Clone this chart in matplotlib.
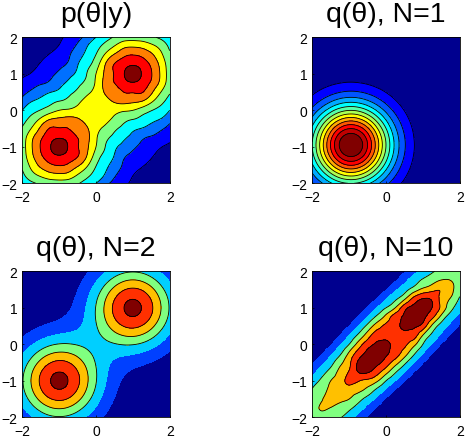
import matplotlib
matplotlib.use('Agg')
import matplotlib.pyplot as plt
import matplotlib.tri as mtri
import numpy as np

plt.rcParams['font.family'] = ['Liberation Sans', 'DejaVu Sans']

# grid of the contour plots
theta1 = [-2, -1.75, -1.5, -1.25, -1, -0.75, -0.5, -0.25, 0, 0.25, 0.5, 0.75, 1, 1.25, 1.5, 1.75, 2]
theta2 = [2, 1.75, 1.5, 1.25, 1, 0.75, 0.5, 0.25, 0, -0.25, -0.5, -0.75, -1, -1.25, -1.5, -1.75, -2]

titles = ['p(θ|y)', 'q(θ), N=1', 'q(θ), N=2', 'q(θ), N=10']
ticks_x = [-2, 0, 2]
ticks_y = [-2, -1, 0, 1, 2]
tick_labels_x = ['−2', '0', '2']
tick_labels_y = ['−2', '−1', '0', '1', '2']

# values, one row per theta2 value, top row first
posterior = [
    [.3, .4, .55, .72, .82, 1.25, 1.7, 2.3, 3.0, 3.55, 4.1, 4.4, 4.5, 4.4, 4.2, 3.8, 3.4],
    [.4, .52, .7, .88, 1.05, 1.65, 2.15, 2.95, 3.65, 4.35, 5.05, 5.75, 5.9, 5.75, 5.3, 4.7, 3.8],
    [.55, .7, .9, 1.05, 1.4, 1.9, 2.55, 3.3, 4.05, 5.2, 6.2, 6.85, 7.05, 6.85, 6.25, 5.3, 4.2],
    [.72, .88, 1.05, 1.4, 1.75, 2.15, 2.95, 3.7, 4.55, 6.0, 7.05, 7.6, 7.9, 7.6, 6.85, 5.75, 4.4],
    [.82, 1.05, 1.4, 1.75, 2.2, 2.7, 3.2, 4.0, 5.0, 6.2, 7.05, 7.9, 8.8, 7.9, 7.05, 5.9, 4.5],
    [1.25, 1.65, 1.9, 2.15, 2.7, 3.15, 3.7, 4.25, 5.15, 6.3, 7.0, 7.6, 7.9, 7.6, 6.85, 5.75, 4.4],
    [1.7, 2.15, 2.55, 2.95, 3.2, 3.7, 4.2, 4.8, 5.3, 6.1, 6.55, 7.0, 7.05, 7.05, 6.2, 5.05, 4.1],
    [2.3, 2.95, 3.3, 3.7, 4.0, 4.25, 4.8, 5.2, 5.45, 5.75, 6.1, 6.3, 6.2, 6.0, 5.2, 4.35, 3.55],
    [3.0, 3.65, 4.05, 4.55, 5.0, 5.15, 5.3, 5.45, 5.55, 5.45, 5.3, 5.15, 5.0, 4.55, 4.05, 3.65, 3.0],
    [3.55, 4.35, 5.2, 6.0, 6.2, 6.3, 6.1, 5.75, 5.45, 5.2, 4.8, 4.25, 4.0, 3.7, 3.3, 2.95, 2.3],
    [4.1, 5.05, 6.2, 7.05, 7.05, 7.0, 6.55, 6.1, 5.3, 4.8, 4.2, 3.7, 3.2, 2.95, 2.55, 2.15, 1.7],
    [4.4, 5.75, 6.85, 7.6, 7.9, 7.6, 7.0, 6.3, 5.15, 4.25, 3.7, 3.15, 2.7, 2.15, 1.9, 1.65, 1.25],
    [4.5, 5.9, 7.05, 7.9, 8.8, 7.9, 7.05, 6.2, 5.0, 4.0, 3.2, 2.7, 2.2, 1.75, 1.4, 1.05, .82],
    [4.4, 5.75, 6.85, 7.6, 7.9, 7.6, 7.05, 6.0, 4.55, 3.7, 2.95, 2.15, 1.75, 1.4, 1.05, .88, .72],
    [4.2, 5.3, 6.25, 6.85, 7.05, 6.85, 6.2, 5.2, 4.05, 3.3, 2.55, 1.9, 1.4, 1.05, .9, .7, .55],
    [3.8, 4.7, 5.3, 5.75, 5.9, 5.75, 5.05, 4.35, 3.65, 2.95, 2.15, 1.65, 1.05, .88, .7, .52, .4],
    [3.4, 3.8, 4.2, 4.4, 4.5, 4.4, 4.1, 3.55, 3.0, 2.3, 1.7, 1.25, .82, .72, .55, .4, .3],
]

q_n1 = [
    [0, 0, 0, 0, 0, 0, 0, 0, 0, 0, 0, 0, 0, 0, 0, 0, 0],
    [.01, .01, .02, .02, .02, .02, .02, .02, .01, .01, 0, 0, 0, 0, 0, 0, 0],
    [.03, .04, .06, .07, .07, .07, .06, .05, .03, .02, .01, 0, 0, 0, 0, 0, 0],
    [.08, .11, .15, .18, .2, .19, .16, .13, .09, .06, .03, .02, .01, 0, 0, 0, 0],
    [.19, .28, .37, .45, .48, .47, .41, .32, .22, .14, .08, .04, .02, .01, 0, 0, 0],
    [.41, .61, .82, .98, 1.06, 1.02, .89, .69, .49, .30, .17, .09, .04, .02, .01, 0, 0],
    [.81, 1.22, 1.63, 1.96, 2.12, 2.05, 1.78, 1.39, .97, .61, .34, .17, .08, .03, .01, 0, 0],
    [1.44, 2.16, 2.89, 3.48, 3.75, 3.63, 3.15, 2.46, 1.72, 1.08, .61, .30, .14, .06, .02, .01, 0],
    [2.30, 3.44, 4.60, 5.54, 5.97, 5.78, 5.02, 3.92, 2.74, 1.72, .97, .48, .22, .09, .03, .01, 0],
    [3.29, 4.92, 6.59, 7.93, 8.55, 8.27, 7.19, 5.60, 3.92, 2.46, 1.39, .69, .31, .13, .05, .01, .01],
    [4.22, 6.31, 8.45, 10.17, 10.97, 10.61, 9.22, 7.19, 5.03, 3.15, 1.78, .89, .40, .17, .06, .02, .01],
    [4.86, 7.26, 9.73, 11.71, 12.63, 12.22, 10.62, 8.28, 5.79, 3.63, 2.05, 1.02, .46, .19, .07, .02, .01],
    [5.02, 7.50, 10.05, 12.10, 13.04, 12.62, 10.97, 8.55, 5.98, 3.75, 2.12, 1.06, .48, .2, .07, .02, .01],
    [4.65, 6.96, 9.31, 11.21, 12.09, 11.70, 10.17, 7.93, 5.54, 3.48, 1.96, .98, .44, .19, .06, .02, .01],
    [3.87, 5.78, 7.74, 9.32, 10.05, 9.73, 8.45, 6.59, 4.61, 2.89, 1.63, .82, .37, .15, .05, .02, .01],
    [2.89, 4.32, 5.78, 6.96, 7.50, 7.26, 6.31, 4.92, 3.44, 2.16, 1.22, .61, .28, .11, .04, .01, .01],
    [1.93, 2.89, 3.87, 4.65, 5.02, 4.86, 4.22, 3.29, 2.30, 1.44, .81, .41, .18, .08, .03, .01, 0],
]

q_n2 = [
    [.01, .01, .03, .07, .14, .29, .53, .89, 1.36, 1.90, 2.41, 2.78, 2.91, 2.78, 2.41, 1.90, 1.36],
    [.01, .03, .05, .10, .21, .41, .74, 1.25, 1.91, 2.65, 3.36, 3.88, 4.07, 3.88, 3.36, 2.65, 1.90],
    [.03, .05, .09, .16, .30, .55, .97, 1.60, 2.43, 3.38, 4.27, 4.92, 5.16, 4.92, 4.27, 3.36, 2.41],
    [.07, .10, .16, .25, .41, .70, 1.17, 1.89, 2.84, 3.92, 4.94, 5.69, 5.96, 5.68, 4.92, 3.88, 2.78],
    [.14, .21, .30, .41, .59, .88, 1.36, 2.09, 3.05, 4.16, 5.22, 5.98, 6.26, 5.96, 5.17, 4.07, 2.91],
    [.29, .41, .55, .70, .88, 1.15, 1.57, 2.20, 3.06, 4.06, 5.03, 5.73, 5.98, 5.69, 4.93, 3.88, 2.78],
    [.53, .74, .97, 1.17, 1.36, 1.57, 1.85, 2.29, 2.93, 3.70, 4.46, 5.03, 5.22, 4.94, 4.27, 3.36, 2.41],
    [.89, 1.25, 1.60, 1.89, 2.09, 2.20, 2.29, 2.47, 2.78, 3.22, 3.70, 4.06, 4.16, 3.92, 3.38, 2.65, 1.90],
    [1.36, 1.91, 2.43, 2.84, 3.05, 3.06, 2.93, 2.78, 2.71, 2.78, 2.93, 3.06, 3.05, 2.84, 2.43, 1.91, 1.36],
    [1.90, 2.65, 3.38, 3.92, 4.16, 4.06, 3.70, 3.22, 2.78, 2.47, 2.29, 2.20, 2.09, 1.89, 1.60, 1.25, .89],
    [2.41, 3.36, 4.27, 4.94, 5.22, 5.03, 4.46, 3.70, 2.93, 2.29, 1.85, 1.57, 1.36, 1.17, .97, .74, .53],
    [2.78, 3.88, 4.93, 5.69, 5.98, 5.73, 5.03, 4.06, 3.06, 2.20, 1.57, 1.15, .88, .70, .55, .41, .29],
    [2.91, 4.07, 5.17, 5.96, 6.26, 5.98, 5.22, 4.16, 3.05, 2.09, 1.36, .88, .59, .41, .30, .21, .14],
    [2.78, 3.88, 4.92, 5.68, 5.96, 5.69, 4.94, 3.92, 2.84, 1.89, 1.17, .70, .41, .25, .16, .10, .07],
    [2.41, 3.36, 4.27, 4.92, 5.16, 4.92, 4.27, 3.38, 2.43, 1.60, .97, .55, .30, .16, .09, .05, .03],
    [1.90, 2.65, 3.36, 3.88, 4.07, 3.88, 3.36, 2.65, 1.91, 1.25, .74, .41, .21, .10, .05, .03, .01],
    [1.36, 1.90, 2.41, 2.78, 2.91, 2.78, 2.41, 1.90, 1.36, .89, .53, .29, .14, .07, .03, .01, .01],
]

q_n10 = [
    [0, 0, 0, 0, 0, .05, .1, .2, .3, .5, .85, 1.6, 2.4, 2.88, 3.23, 3.38, 3.3],
    [0, 0, 0, 0, .05, .1, .2, .33, .55, .9, 1.7, 2.5, 3.14, 3.6, 4.05, 4.0, 3.5],
    [0, 0, 0, .05, .1, .2, .36, .58, .95, 1.8, 2.6, 3.44, 4.25, 4.7, 4.95, 4.35, 3.4],
    [0, 0, .05, .1, .2, .38, .6, 1.0, 1.9, 2.8, 3.8, 5.3, 6.0, 5.85, 4.7, 3.95, 2.88],
    [0, .05, .1, .2, .4, .62, 1.05, 2.0, 3.0, 4.0, 5.6, 6.3, 6.4, 6.0, 4.75, 3.4, 2.4],
    [.05, .1, .2, .4, .62, 1.05, 2.05, 3.2, 4.33, 5.5, 6.2, 6.8, 6.3, 5.3, 3.7, 2.5, 1.6],
    [.1, .2, .38, .62, 1.0, 2.05, 3.28, 4.5, 5.18, 5.6, 6.3, 6.2, 5.6, 3.8, 2.6, 1.7, .85],
    [.2, .37, .6, .95, 2.0, 3.18, 4.48, 5.5, 5.6, 5.8, 5.6, 5.5, 4.0, 2.8, 1.8, .9, .5],
    [.35, .58, .9, 1.85, 3.0, 4.4, 5.55, 6.2, 6.3, 5.6, 5.18, 4.33, 3.0, 1.9, .95, .55, .3],
    [.55, .88, 1.75, 2.8, 4.17, 5.45, 6.3, 6.7, 6.2, 5.5, 4.5, 3.2, 2.0, 1.0, .58, .33, .2],
    [.85, 1.65, 2.6, 3.7, 4.76, 6.15, 6.6, 6.3, 5.55, 4.48, 3.28, 2.05, 1.05, .6, .36, .2, .1],
    [1.63, 2.5, 3.39, 4.24, 5.08, 6.05, 6.15, 5.45, 4.4, 3.18, 2.05, 1.05, .62, .38, .2, .1, .05],
    [2.43, 3.24, 4.0, 4.55, 5.3, 5.08, 4.76, 4.17, 3.0, 2.0, 1.0, .62, .4, .2, .1, .05, 0],
    [3.08, 3.7, 4.25, 4.8, 4.55, 4.24, 3.7, 2.8, 1.85, .95, .62, .4, .2, .1, .05, 0, 0],
    [3.33, 3.9, 4.4, 4.25, 4.0, 3.39, 2.6, 1.75, .9, .6, .38, .2, .1, .05, 0, 0, 0],
    [3.4, 4.1, 3.95, 3.7, 3.24, 2.5, 1.65, .88, .58, .37, .2, .1, .05, 0, 0, 0, 0],
    [3.4, 3.4, 3.33, 3.08, 2.43, 1.63, .85, .55, .35, .2, .1, .05, 0, 0, 0, 0, 0],
]

surfaces = [posterior, q_n1, q_n2, q_n10]

colors_9 = ['#00008f', '#0000ff', '#0070ff', '#00ffff', '#80ff80', '#ffff00', '#ff8000', '#ff0000', '#800000']
colors_13 = ['#00008f', '#0000ff', '#0055ff', '#00aaff', '#00ffff', '#55ffaa', '#aaff55', '#ffff00',
             '#ffaa00', '#ff5500', '#ff0000', '#c00000', '#800000']
colors_7 = ['#00008f', '#0040ff', '#00cfff', '#80ff80', '#ffc000', '#ff3000', '#800000']
band_colors = [colors_9, colors_13, colors_7, colors_7]
line_from = [1, 1, 3, 3]  # lowest level that has a black line in each panel

W, H = 465, 439
boxes = [(22.3, 38.3), (312.3, 38.3), (22.3, 272.3), (312.3, 272.3)]
box_w, box_h = 147.4, 146.0

# triangulation of the grid, refined so that the contours come out round
gx, gy = np.meshgrid(theta1, theta2)
grid_tri = mtri.Triangulation(gx.ravel(), gy.ravel())
refiner = mtri.UniformTriRefiner(grid_tri)

fig = plt.figure(figsize=(W / 100, H / 100), dpi=100)
for i in range(4):
    left, top = boxes[i]
    ax = fig.add_axes([left / W, 1 - (top + box_h) / H, box_w / W, box_h / H])
    cols = band_colors[i]
    inner = list(range(1, len(cols)))
    fine_tri, fine_z = refiner.refine_field(np.array(surfaces[i], dtype=float).ravel(), subdiv=3)
    ax.tricontourf(fine_tri, fine_z, levels=[-99] + inner + [99], colors=cols)
    ax.tricontour(fine_tri, fine_z, levels=[k for k in inner if k >= line_from[i]],
                  colors='black', linewidths=0.6)
    ax.set_xlim(-2, 2)
    ax.set_ylim(-2, 2)
    ax.set_xticks(ticks_x)
    ax.set_xticklabels(tick_labels_x)
    ax.set_yticks(ticks_y)
    ax.set_yticklabels(tick_labels_y)
    ax.tick_params(direction='in', length=1.5, width=0.5, labelsize=10)
    ax.tick_params(axis='x', pad=5)
    ax.tick_params(axis='y', pad=3.5)
    for s in ax.spines.values():
        s.set_linewidth(0.6)
    ax.set_title(titles[i], fontsize=20.5, pad=11.5)

fig.savefig('out.png', dpi=100)
